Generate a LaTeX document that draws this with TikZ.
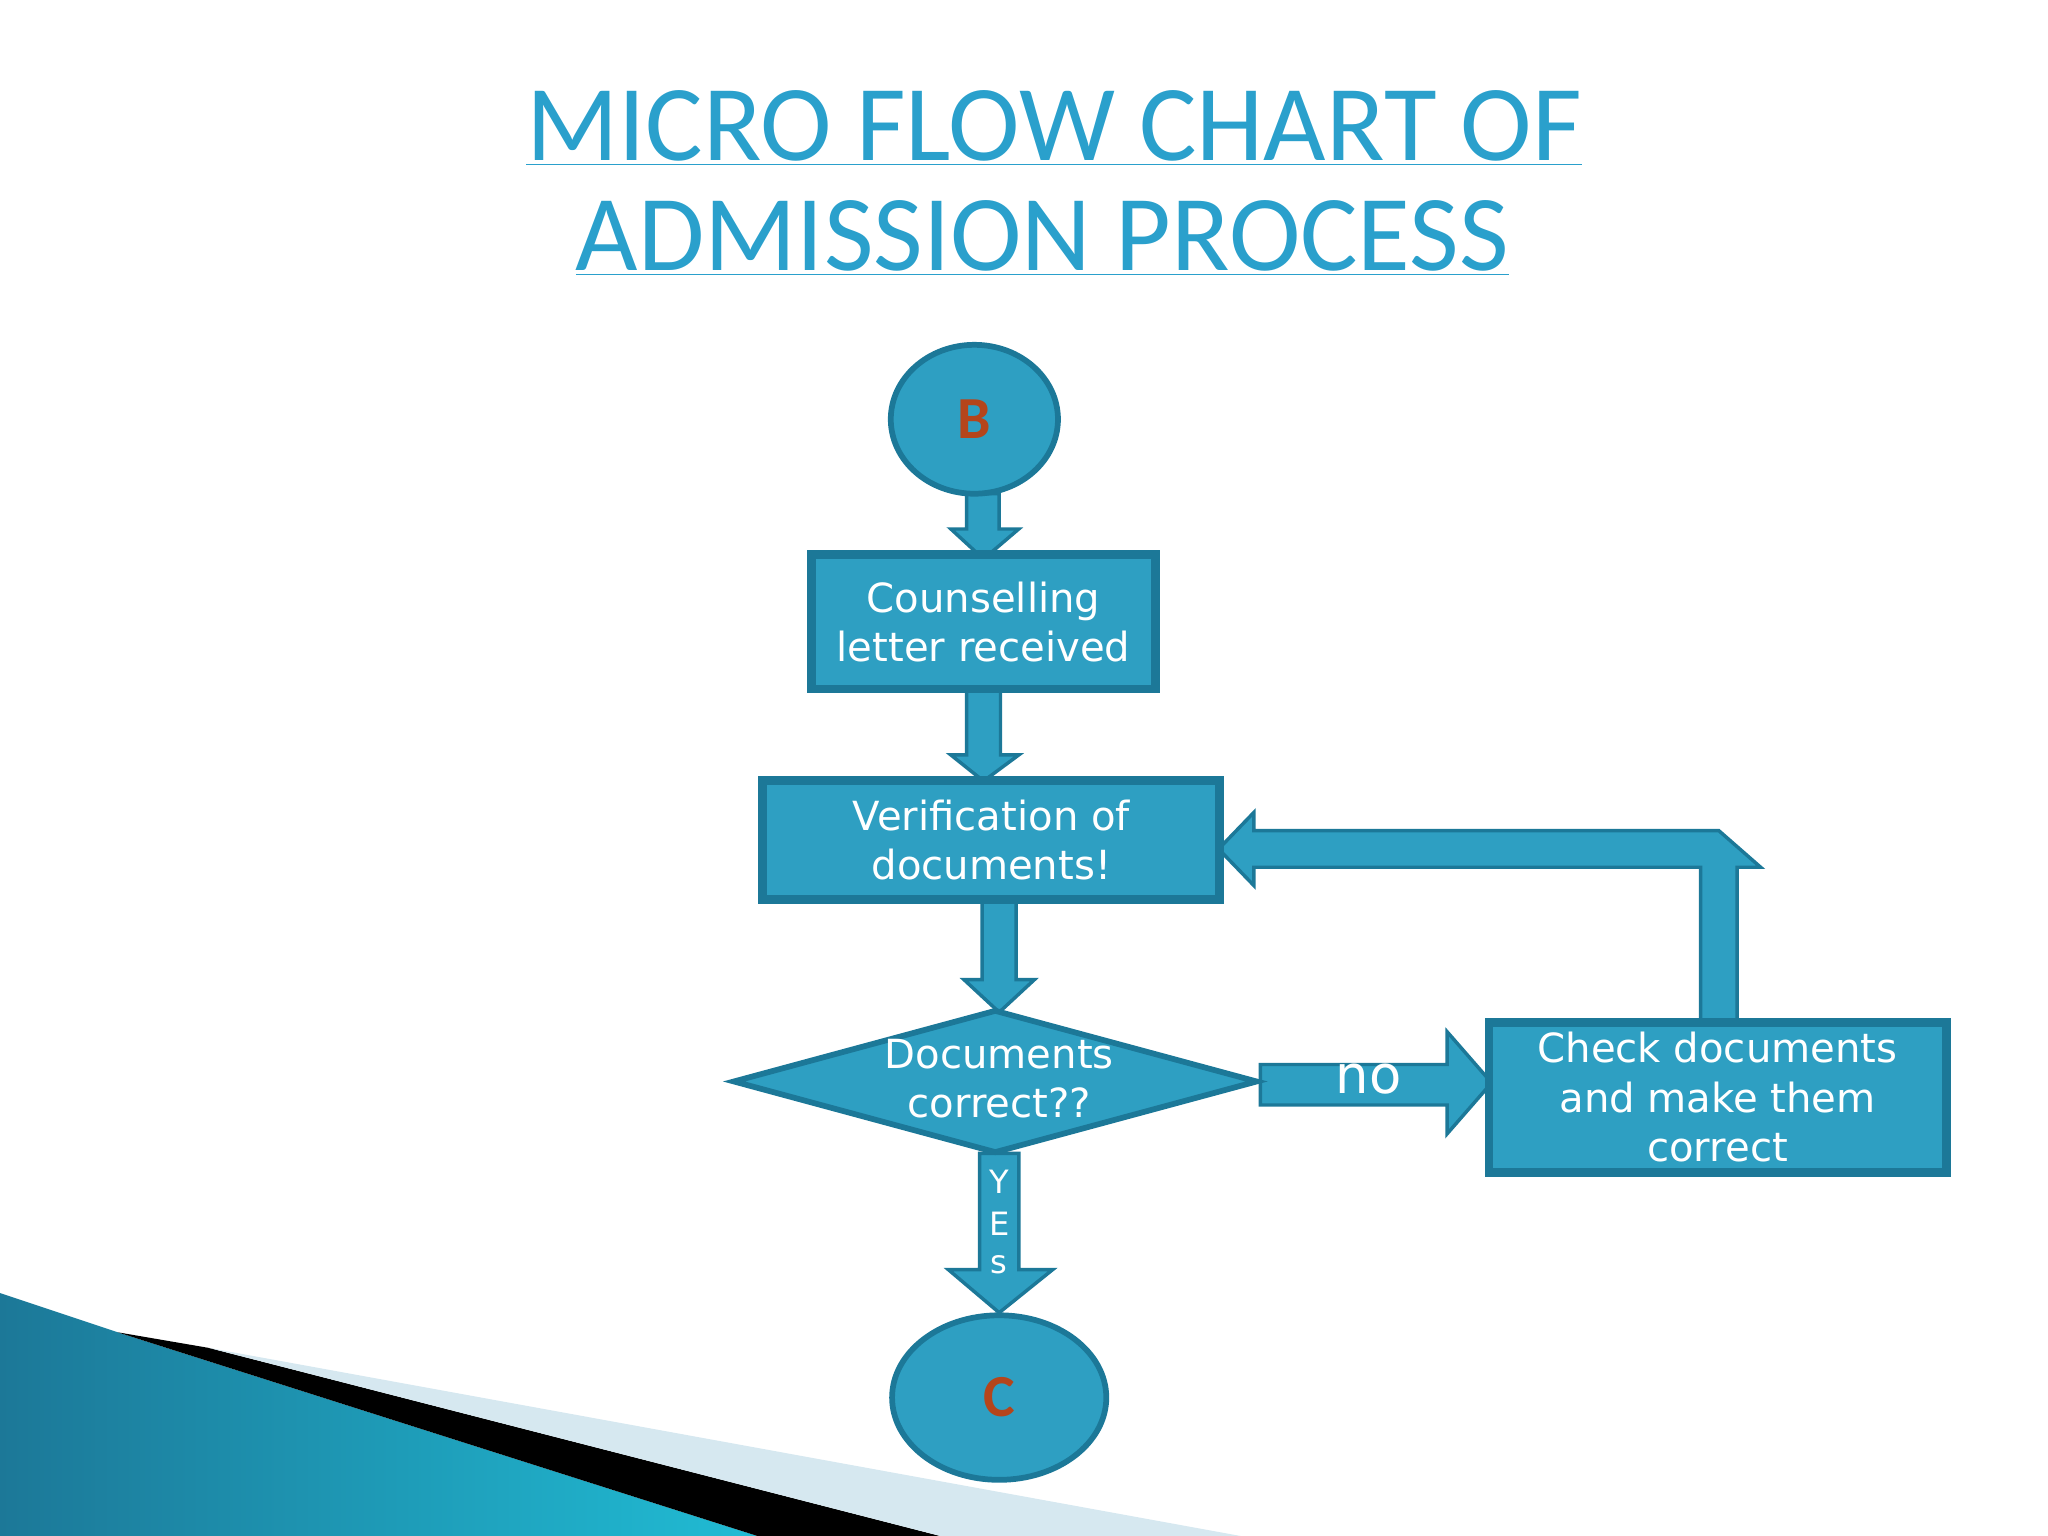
\documentclass[tikz,border=0pt]{standalone}
\usepackage{fontspec}
\setmainfont{Carlito}
\newfontfamily\nodefont{DejaVu Sans}
\usetikzlibrary{shapes.geometric}
\definecolor{fillb}{HTML}{2E9FC2}
\definecolor{edgeb}{HTML}{1C7898}
\definecolor{titleb}{HTML}{2AA0CC}
\definecolor{lbl}{HTML}{B5451B}
\definecolor{pale}{HTML}{D6E8F0}
\begin{document}
\begin{tikzpicture}[x=0.02cm,y=-0.02cm,
  box/.style={draw=edgeb,line width=1.2pt,double=edgeb,double distance=1.5pt,fill=fillb,inner sep=0,text=white,align=center,font=\nodefont\fontsize{17.5}{21.5}\selectfont},
  blk/.style={fill=fillb,draw=edgeb,line width=1.5pt,line join=miter},
  circ/.style={ellipse,draw=edgeb,line width=2.5pt,fill=fillb,font=\bfseries\fontsize{26}{30}\selectfont,text=lbl}]
\useasboundingbox (0,0) rectangle (1568,1176);
% swoosh
\shade[left color=edgeb,right color=fillb!70!cyan] (0,990) -- (90,1020) -- (580,1176) -- (0,1176) -- cycle;
\fill[black] (90,1020) -- (160,1032) -- (720,1176) -- (580,1176) -- cycle;
\fill[pale] (160,1032) -- (950,1176) -- (720,1176) -- cycle;
% title
\node[text=titleb,font=\fontsize{47}{54}\selectfont] (t1) at (807,98) {\underline{MICRO FLOW CHART OF}};
\node[text=titleb,font=\fontsize{47}{54}\selectfont] (t2) at (798,182) {\underline{ADMISSION PROCESS}};
% arrows
\draw[blk] (740,378) -- (765,378) -- (765,405) -- (780,405) -- (753,428) -- (728,405) -- (740,405) -- cycle;
\draw[blk] (740,528) -- (766,528) -- (766,578) -- (780,578) -- (753,598) -- (728,578) -- (740,578) -- cycle;
\draw[blk] (752,689) -- (778,689) -- (778,750) -- (792,750) -- (765,775) -- (738,750) -- (752,750) -- cycle;
\draw[blk] (965,815) -- (1108,815) -- (1108,790) -- (1142,829) -- (1108,868) -- (1108,846) -- (965,846) -- cycle;
\draw[blk] (750,883) -- (780,883) -- (780,972) -- (806,972) -- (765,1005) -- (726,972) -- (750,972) -- cycle;
\draw[blk] (1302,783) -- (1302,664) -- (960,664) -- (960,678) -- (933,650) -- (960,622) -- (960,636) -- (1316,636) -- (1348,664) -- (1330,664) -- (1330,783) -- cycle;
% nodes
\node[circ,minimum width=128*0.02cm,minimum height=114*0.02cm] (B) at (746,321) {B};
\node[circ,minimum width=164*0.02cm,minimum height=126*0.02cm] (C) at (765,1070) {C};
\node[box,minimum width=264*0.02cm,minimum height=103*0.02cm] (cl) at (753,476) {Counselling\\letter received};
\node[box,minimum width=350*0.02cm,minimum height=91*0.02cm] (vd) at (759,643) {Verification of\\documents!};
\node[diamond,aspect=3.65,draw=edgeb,line width=2.5pt,fill=fillb,inner sep=0,minimum width=402*0.02cm,minimum height=110*0.02cm] (dc) at (762,828) {};
\node[text=white,align=center,font=\nodefont\fontsize{17.5}{21.5}\selectfont] (dct) at (765,826) {Documents\\correct??};
\node[box,minimum width=350*0.02cm,minimum height=115*0.02cm] (ck) at (1315,840) {Check documents\\and make them\\correct};
\node[text=white,font=\nodefont\fontsize{23}{28}\selectfont] (no) at (1048,826) {no};
\node[text=white,font=\nodefont\fontsize{14}{18}\selectfont] (y1) at (765,905) {Y};
\node[text=white,font=\nodefont\fontsize{14}{18}\selectfont] (y2) at (765,937) {E};
\node[text=white,font=\nodefont\fontsize{14}{18}\selectfont] (y3) at (765,968) {s};
\end{tikzpicture}
\end{document}
